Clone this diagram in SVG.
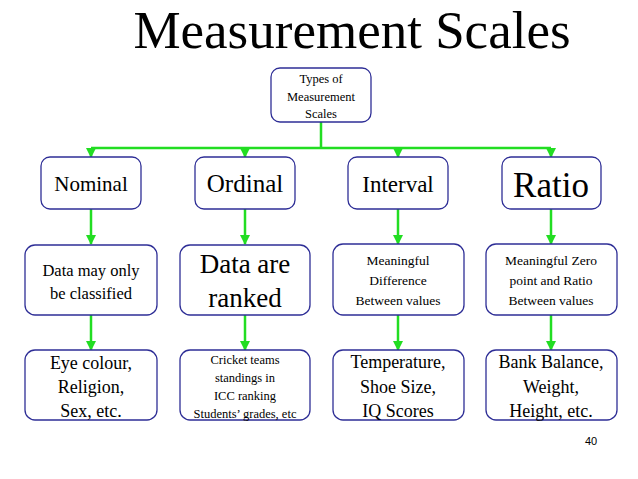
<svg xmlns="http://www.w3.org/2000/svg" width="638" height="479" viewBox="0 0 638 479" font-family="Liberation Serif, Times New Roman, serif">
<style>
.box{fill:#fff;stroke:#2e2e96;stroke-width:1.3}
text{fill:#000;text-anchor:middle}
.c{fill:none;stroke:#22dd22;stroke-width:2.5}
</style>
<defs><marker id="a" viewBox="0 0 10 10" refX="9" refY="5" markerWidth="4" markerHeight="4" orient="auto"><path d="M0,0L10,5L0,10z" fill="#22dd22"/></marker></defs>
<rect width="638" height="479" fill="#fff"/>
<text x="352" y="48" font-size="53">Measurement Scales</text>
<g id="connectors">
<path class="c" d="M321,122V148M91,148H551"/>
<path class="c" marker-end="url(#a)" d="M91,148V157"/>
<path class="c" marker-end="url(#a)" d="M245,148V157"/>
<path class="c" marker-end="url(#a)" d="M398,148V157"/>
<path class="c" marker-end="url(#a)" d="M551,148V157"/>
<path class="c" marker-end="url(#a)" d="M91,209V244"/>
<path class="c" marker-end="url(#a)" d="M245,209V244"/>
<path class="c" marker-end="url(#a)" d="M398,209V244"/>
<path class="c" marker-end="url(#a)" d="M551,209V244"/>
<path class="c" marker-end="url(#a)" d="M91,315V350"/>
<path class="c" marker-end="url(#a)" d="M245,315V350"/>
<path class="c" marker-end="url(#a)" d="M398,315V350"/>
<path class="c" marker-end="url(#a)" d="M551,315V350"/>
</g>
<g id="root"><rect class="box" x="271" y="68" width="100" height="54" rx="9"/><text font-size="12.5" font-family="Liberation Serif, serif"><tspan x="321" y="83">Types of</tspan><tspan x="321" y="101">Measurement</tspan><tspan x="321" y="118">Scales</tspan></text></g>
<g id="nominal"><rect class="box" x="41" y="157" width="100" height="52" rx="9"/><text x="91" y="191" font-size="21">Nominal</text></g>
<g id="ordinal"><rect class="box" x="195" y="157" width="100" height="52" rx="9"/><text x="245" y="192" font-size="25">Ordinal</text></g>
<g id="interval"><rect class="box" x="348" y="157" width="100" height="52" rx="9"/><text x="398" y="192" font-size="23">Interval</text></g>
<g id="ratio"><rect class="box" x="502" y="157" width="99" height="52" rx="9"/><text x="551" y="197" font-size="35">Ratio</text></g>
<g id="nominal-desc"><rect class="box" x="25" y="245" width="132" height="70" rx="10"/><text font-size="16.5" font-family="Liberation Serif, serif"><tspan x="91" y="276">Data may only</tspan><tspan x="91" y="299">be classified</tspan></text></g>
<g id="ordinal-desc"><rect class="box" x="180" y="245" width="130" height="70" rx="10"/><text font-size="27" font-family="Liberation Serif, serif"><tspan x="245" y="273">Data are</tspan><tspan x="245" y="307">ranked</tspan></text></g>
<g id="interval-desc"><rect class="box" x="333" y="244" width="131" height="71" rx="10"/><text font-size="13.5" font-family="Liberation Serif, serif"><tspan x="398" y="265">Meaningful</tspan><tspan x="398" y="285">Difference</tspan><tspan x="398" y="305">Between values</tspan></text></g>
<g id="ratio-desc"><rect class="box" x="486" y="244" width="131" height="71" rx="10"/><text font-size="13.5" font-family="Liberation Serif, serif"><tspan x="551" y="265">Meaningful Zero</tspan><tspan x="551" y="285">point and Ratio</tspan><tspan x="551" y="305">Between values</tspan></text></g>
<g id="nominal-ex"><rect class="box" x="25" y="350" width="132" height="70" rx="10"/><text font-size="18" font-family="Liberation Serif, serif"><tspan x="91" y="369">Eye colour,</tspan><tspan x="91" y="393">Religion,</tspan><tspan x="91" y="417">Sex, etc.</tspan></text></g>
<g id="ordinal-ex"><rect class="box" x="180" y="350" width="130" height="70" rx="10"/><text font-size="12.5" font-family="Liberation Serif, serif"><tspan x="245" y="364">Cricket teams</tspan><tspan x="245" y="382">standings in</tspan><tspan x="245" y="400">ICC ranking</tspan><tspan x="245" y="418">Students’ grades, etc</tspan></text></g>
<g id="interval-ex"><rect class="box" x="333" y="350" width="131" height="70" rx="10"/><text font-size="18" font-family="Liberation Serif, serif"><tspan x="398" y="368">Temperature,</tspan><tspan x="398" y="393">Shoe Size,</tspan><tspan x="398" y="417">IQ Scores</tspan></text></g>
<g id="ratio-ex"><rect class="box" x="486" y="350" width="131" height="70" rx="10"/><text font-size="18" font-family="Liberation Serif, serif"><tspan x="551" y="368">Bank Balance,</tspan><tspan x="551" y="393">Weight,</tspan><tspan x="551" y="417">Height, etc.</tspan></text></g>
<text x="591" y="445" font-size="11" font-family="Liberation Sans, Arial, sans-serif">40</text>
</svg>
